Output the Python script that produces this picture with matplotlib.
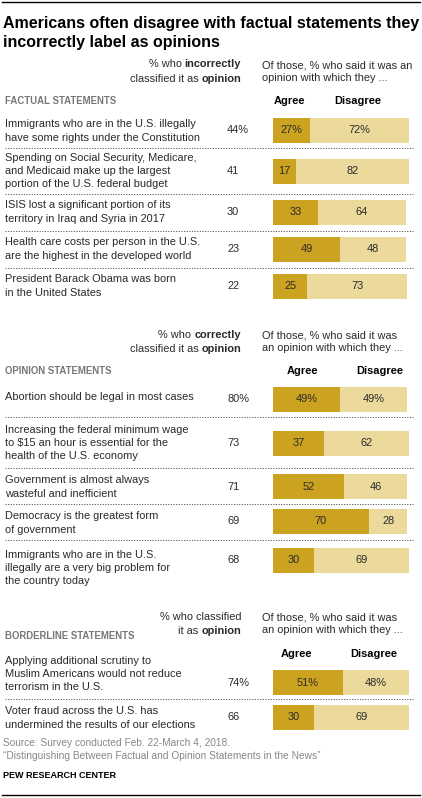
import matplotlib
matplotlib.use("Agg")
import matplotlib.pyplot as plt

plt.rcParams['font.family'] = ['Liberation Sans', 'DejaVu Sans']

# ---------------- data ----------------
title = "Americans often disagree with factual statements they\nincorrectly label as opinions"

factual_labels = [
    "Immigrants who are in the U.S. illegally\nhave some rights under the Constitution",
    "Spending on Social Security, Medicare,\nand Medicaid make up the largest\nportion of the U.S. federal budget",
    "ISIS lost a significant portion of its\nterritory in Iraq and Syria in 2017",
    "Health care costs per person in the U.S.\nare the highest in the developed world",
    "President Barack Obama was born\nin the United States",
]
factual_pct = [44, 41, 30, 23, 22]
factual_agree = [27, 17, 33, 49, 25]
factual_disagree = [72, 82, 64, 48, 73]

opinion_labels = [
    "Abortion should be legal in most cases",
    "Increasing the federal minimum wage\nto $15 an hour is essential for the\nhealth of the U.S. economy",
    "Government is almost always\nwasteful and inefficient",
    "Democracy is the greatest form\nof government",
    "Immigrants who are in the U.S.\nillegally are a very big problem for\nthe country today",
]
opinion_pct = [80, 73, 71, 69, 68]
opinion_agree = [49, 37, 52, 70, 30]
opinion_disagree = [49, 62, 46, 28, 69]

border_labels = [
    "Applying additional scrutiny to\nMuslim Americans would not reduce\nterrorism in the U.S.",
    "Voter fraud across the U.S. has\nundermined the results of our elections",
]
border_pct = [74, 66]
border_agree = [51, 30]
border_disagree = [48, 69]

section_titles = ["FACTUAL STATEMENTS", "OPINION STATEMENTS", "BORDERLINE STATEMENTS"]
left_headers = [("% who ", "incorrectly", "classified it as ", "opinion"),
                ("% who ", "correctly", "classified it as ", "opinion"),
                ("% who classified", "", "it as ", "opinion")]
right_headers = ["Of those, % who said it was an\nopinion with which they ...",
                 "Of those, % who said it was\nan opinion with which they ...",
                 "Of those, % who said it was\nan opinion with which they ..."]
source = "Source: Survey conducted Feb. 22-March 4, 2018.\n\u201cDistinguishing Between Factual and Opinion Statements in the News\u201d"
brand = "PEW RESEARCH CENTER"

# ---------------- layout ----------------
W, H = 422, 798
DARK = "#CBA321"
LIGHT = "#EBDA9C"
TXT = "#2a2a2a"
GREY = "#777777"
FS = 7.9
LS = 1.42

fig = plt.figure(figsize=(W / 100, H / 100), dpi=100)
ax = fig.add_axes([0, 0, 1, 1])
ax.set_xlim(0, W)
ax.set_ylim(H, 0)
ax.axis('off')

BX0, BW = 273, 137
bx = fig.add_axes([BX0 / W, 0, BW / W, 1])
bx.set_xlim(0, 100)
bx.set_ylim(H, 0)
bx.axis('off')

renderer = fig.canvas.get_renderer()


def text_width(t):
    bb = t.get_window_extent(renderer=renderer)
    return bb.width


# top and bottom rules
ax.plot([2, 420], [2, 2], color="black", lw=1.0)
ax.plot([2, 420], [795, 795], color="black", lw=1.0)

ax.text(3, 33, title, fontsize=11.55, fontweight='bold', color="black",
        va='center', ha='left', linespacing=1.33)


def header(i, y1, y2, ysec, yag, agx, disx):
    a, b, c, d = left_headers[i]
    xr = 241
    for (norm, bold, yy) in [(a, b, y1), (c, d, y2)]:
        if bold:
            tb = ax.text(xr, yy, bold, fontsize=FS, fontweight='bold', color=TXT,
                         ha='right', va='center')
            wpx = text_width(tb)
            ax.text(xr - wpx, yy, norm, fontsize=FS, color=TXT, ha='right', va='center')
        else:
            ax.text(xr, yy, norm, fontsize=FS, color=TXT, ha='right', va='center')
    ax.text(262, (y1 + y2) / 2, right_headers[i], fontsize=FS, color=TXT,
            ha='left', va='center', linespacing=LS - 0.05)
    ax.text(5, ysec, section_titles[i], fontsize=6.9, fontweight='bold', color=GREY,
            ha='left', va='center')
    ax.text(agx, yag, "Agree", fontsize=FS, fontweight='bold', color="black",
            ha='center', va='center')
    ax.text(disx, yag, "Disagree", fontsize=FS, fontweight='bold', color="black",
            ha='center', va='center')


def section(labels, pct, agree, disagree, text_y, bar_y, seps):
    for k in range(len(labels)):
        ax.text(5, text_y[k], labels[k], fontsize=FS, color=TXT, ha='left',
                va='center', linespacing=LS)
        s = f"{pct[k]}%" if k == 0 else f"{pct[k]}"
        ax.text(227, bar_y[k], s, fontsize=FS, color=TXT, ha='left', va='center')
    bx.barh(bar_y, agree, height=25, color=DARK, linewidth=0)
    bx.barh(bar_y, disagree, left=agree, height=25, color=LIGHT, linewidth=0)
    for k in range(len(labels)):
        sa = f"{agree[k]}%" if k == 0 else f"{agree[k]}"
        sd = f"{disagree[k]}%" if k == 0 else f"{disagree[k]}"
        bx.text(agree[k] / 2, bar_y[k], sa, fontsize=FS, color=TXT, ha='center', va='center')
        bx.text(agree[k] + disagree[k] / 2, bar_y[k], sd, fontsize=FS, color=TXT,
                ha='center', va='center')
    for y in seps:
        ax.plot([5, 413], [y, y], color="#555555", lw=0.7, ls=(0, (1.2, 1.5)))


# Section 1
header(0, 64, 79, 101, 101, 289, 358)
section(factual_labels, factual_pct, factual_agree, factual_disagree,
        [131, 171, 212, 249, 286], [130, 171, 212, 249, 286],
        [148, 194, 231, 268])

# Section 2
header(1, 335, 349, 371, 371, 302, 380)
section(opinion_labels, opinion_pct, opinion_agree, opinion_disagree,
        [397, 443, 487, 523, 568], [399, 443, 486.5, 521.5, 560],
        [417, 468, 504, 540])

# Section 3
header(2, 617, 631, 636, 654, 296, 374)
section(border_labels, border_pct, border_agree, border_disagree,
        [674, 718], [682.5, 717], [699])

ax.text(3, 749.5, source, fontsize=7.3, color="#888888", ha='left', va='center',
        linespacing=1.45)
ax.text(3, 775, brand, fontsize=6.45, fontweight='bold', color="black",
        ha='left', va='center')

fig.savefig("out.png", dpi=100)
